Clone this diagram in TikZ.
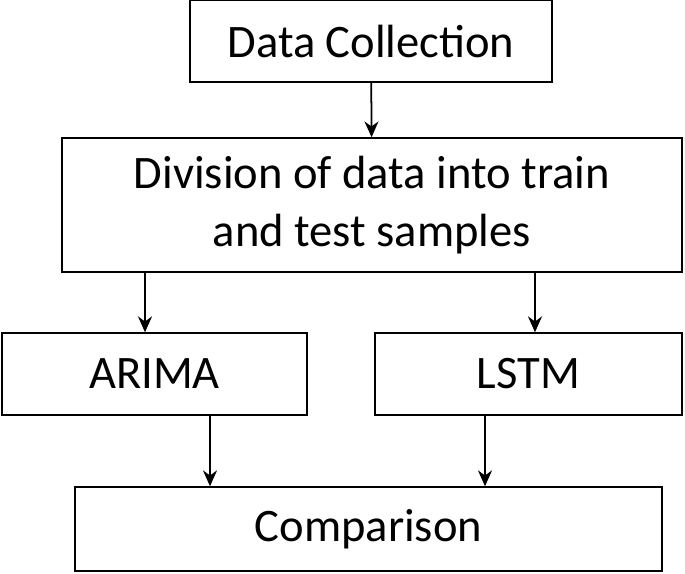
\documentclass[tikz,border=0pt]{standalone}
\usepackage{fontspec}
\setmainfont{Carlito}
\usetikzlibrary{positioning,arrows.meta}
\tikzstyle{stage} = [rectangle, draw=black, line width=0.9pt, align=center, inner sep=0pt, font=\fontsize{26.5}{33}\selectfont]
\tikzstyle{arrow} = [line width=1pt,-{Stealth[length=9pt,width=8pt]}]
\begin{document}
\begin{tikzpicture}
			\useasboundingbox (0,0) rectangle (13.7,-11.48);
			\node (collection) [stage, minimum width=7.24cm, minimum height=1.64cm] at (7.42,-0.82) {Data Collection};
			\node (division) [stage, minimum width=12.4cm, minimum height=2.68cm] at (7.44,-4.1) {Division of data into train\\and test samples};
			\node (arima) [stage, minimum width=6.1cm, minimum height=1.64cm] at (3.09,-7.48) {ARIMA};
			\node (lstm) [stage, minimum width=6.14cm, minimum height=1.64cm] at (10.57,-7.48) {LSTM};
			\node (comparison) [stage, minimum width=11.74cm, minimum height=1.68cm] at (7.37,-10.58) {Comparison};

			\draw [arrow] (collection) -- (division);
			\draw [arrow] (division.south -| 2.9,0) -- (arima.north -| 2.9,0);
			\draw [arrow] (division.south -| 10.7,0) -- (lstm.north -| 10.7,0);
			\draw [arrow] (arima.south -| 4.2,0) -- (comparison.north -| 4.2,0);
			\draw [arrow] (lstm.south -| 9.7,0) -- (comparison.north -| 9.7,0);
\end{tikzpicture}
\end{document}
